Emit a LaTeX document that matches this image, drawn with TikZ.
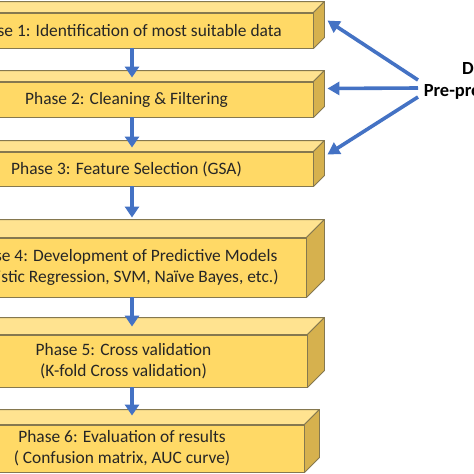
\documentclass[tikz,border=0pt]{standalone}
\usepackage{fontspec}
\setmainfont{Carlito}
\usetikzlibrary{arrows.meta,calc}
\definecolor{frontc}{HTML}{FFD966}
\definecolor{topc}{HTML}{FFE390}
\definecolor{sidec}{HTML}{D6B14E}
\definecolor{edgec}{HTML}{85784F}
\definecolor{arrc}{HTML}{4472C4}
\newcommand\boxfaces[2]{%
  \draw[topf] (#1.north west) -- ++(#2,-#2) -- ($(#1.north east)+(#2,-#2)$) -- (#1.north east) -- cycle;
  \draw[sidef] (#1.north east) -- ++(#2,-#2) -- ($(#1.south east)+(#2,-#2)$) -- (#1.south east) -- cycle;}
\begin{document}
\begin{tikzpicture}[x=1pt,y=-1pt,
  face/.style={draw=edgec, line width=0.9pt, fill=frontc, inner sep=0pt, align=center,
    font=\fontsize{17.4}{21}\selectfont, text=black!85},
  topf/.style={draw=edgec, line width=0.9pt, fill=topc, line join=round},
  sidef/.style={draw=edgec, line width=0.9pt, fill=sidec, line join=round},
  flow/.style={draw=arrc, line width=4pt, -{Triangle[width=14pt,length=11pt]}},
  feed/.style={draw=arrc, line width=3.6pt, -{Triangle[width=13pt,length=12pt]}},
  lab/.style={font=\fontsize{18.5}{22}\selectfont\bfseries, align=center, inner sep=0pt}]
\useasboundingbox (0,0) rectangle (474,474);
\clip (0,0) rectangle (474,474);
\fill[white] (0,0) rectangle (474,474);

\node[face, minimum width=373pt, minimum height=35pt] (b1) at (126.5,30.5) {Phase 1: Identification of most suitable data};
\node[face, minimum width=373pt, minimum height=35pt] (b2) at (126.5,99.5) {Phase 2: Cleaning \& Filtering};
\node[face, minimum width=373pt, minimum height=34pt] (b3) at (126.5,169) {Phase 3: Feature Selection (GSA)};
\node[face, minimum width=366pt, minimum height=59pt] (b4) at (123,267.5) {Phase 4: Development of Predictive Models\\(Logistic Regression, SVM, Naïve Bayes, etc.)};
\node[face, minimum width=367pt, minimum height=52pt] (b5) at (123.5,361) {Phase 5: Cross validation\\(K-fold Cross validation)};
\node[face, minimum width=364pt, minimum height=47pt] (b6) at (122,448.5) {Phase 6: Evaluation of results\\( Confusion matrix, AUC curve)};

\boxfaces{b1}{11}
\boxfaces{b2}{11}
\boxfaces{b3}{11}
\boxfaces{b4}{18}
\boxfaces{b5}{17}
\boxfaces{b6}{15}

\coordinate (ax) at (132,0);
\draw[flow] (b1.south -| ax) -- ([yshift=4pt]b2.north -| ax);
\draw[flow] (b2.south -| ax) -- ([yshift=4pt]b3.north -| ax);
\draw[flow] (b3.south -| ax) -- ([yshift=20pt]b4.north -| ax);
\draw[flow] (b4.south -| ax) -- ([yshift=8pt]b5.north -| ax);
\draw[flow] (b5.south -| ax) -- ([yshift=9pt]b6.north -| ax);

\node[lab] (dp) at (480,81) {Data\\Pre-processing};
\coordinate (s1) at (418,80);
\coordinate (s2) at (418,88);
\coordinate (s3) at (418,97);
\draw[feed] (s1) -- ($(b1.north east)+(14,8)$);
\draw[feed] (s2) -- ($(b2.east)+(14,-11)$);
\draw[feed] (s3) -- ($(b3.north east)+(14,3)$);
\end{tikzpicture}
\end{document}
